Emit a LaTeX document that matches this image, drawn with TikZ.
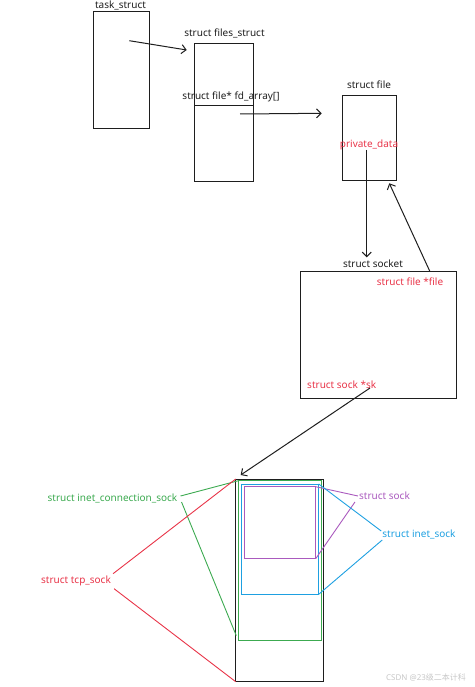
\documentclass[tikz,border=0pt]{standalone}
\usepackage{fontspec}
\setmainfont{Noto Sans}
\newfontfamily\cjkfont{Noto Sans CJK SC}
\usetikzlibrary{calc,arrows.meta}
\definecolor{cred}{RGB}{232,52,72}
\definecolor{cgreen}{RGB}{60,170,80}
\definecolor{cpurple}{RGB}{170,90,190}
\definecolor{cblue}{RGB}{30,160,225}
\definecolor{ctext}{RGB}{30,30,30}
\begin{document}
\begin{tikzpicture}[x=1pt,y=-1pt,
  box/.style={draw=ctext,line width=1pt,anchor=north west,inner sep=0pt,outer sep=0pt},
  cbox/.style={draw=#1,line width=0.9pt,anchor=north west,inner sep=0pt,outer sep=0pt},
  lbl/.style={font=\fontsize{10}{11}\selectfont,text=ctext,inner sep=0pt},
  rlbl/.style={lbl,text=cred},
  ptr/.style={draw=ctext,line width=1pt,-{Straight Barb[length=4.5pt,width=9pt,line width=1pt]}},
  lead/.style={draw=#1,line width=0.9pt}
]
\useasboundingbox (0,0) rectangle (474,687);
% boxes
\node[box,minimum width=56pt,minimum height=116.6pt] (task) at (93.3,11.7) {};
\node[box,minimum width=59.3pt,minimum height=137.7pt] (files) at (194,44) {};
\node[box,minimum width=54pt,minimum height=84.3pt] (file) at (342.7,95.7) {};
\node[box,minimum width=156pt,minimum height=126.7pt] (socket) at (300,271.7) {};
\node[box,minimum width=87.6pt,minimum height=202.7pt] (big) at (235.7,479) {};
\node[cbox=cgreen,minimum width=83.4pt,minimum height=160pt] (green) at (238.3,480.7) {};
\node[cbox=cblue,minimum width=77.4pt,minimum height=110.3pt] (blue) at (241.3,484) {};
\node[cbox=cpurple,minimum width=71.7pt,minimum height=72pt] (purple) at (244,486.7) {};
\coordinate (divl) at (194,105.7);
\coordinate (divr) at (253.3,105.7);
\draw[draw=ctext,line width=1pt] (divl) -- (divr);
% labels
\node[lbl] (ltask) at (120.5,5) {task\_struct};
\node[lbl] (lfiles) at (224.5,33) {struct files\_struct};
\node[lbl] (lfd) at (231,97) {struct file* fd\_array[]};
\node[lbl] (lfile) at (369,85) {struct file};
\node[rlbl] (lpriv) at (369,145) {private\_data};
\node[lbl] (lsocket) at (373,263.3) {struct socket};
\node[rlbl] (lsfile) at (410,281.7) {struct file *file};
\node[rlbl] (lsk) at (341.7,385) {struct sock *sk};
\node[lbl,text=cgreen] (licsk) at (112.5,498) {struct inet\_connection\_sock};
\node[lbl,text=cpurple] (lsock) at (384.5,496) {struct sock};
\node[lbl,text=cblue] (linet) at (419,534) {struct inet\_sock};
\node[lbl,text=cred] (ltcp) at (76,580.7) {struct tcp\_sock};
\node[lbl,text=black!22,font=\fontsize{8}{9}\selectfont] (wm) at (426,677) {CSDN @23{\cjkfont 级二本计科}};
% pointer arrows
\coordinate (p1) at (129.3,40.7);
\coordinate (q1) at (186.7,50);
\draw[ptr] (p1) -- (q1);
\coordinate (p2) at (240,114);
\coordinate (q2) at (321.7,113.3);
\draw[ptr] (p2) -- (q2);
\coordinate (p3) at (366.7,150);
\coordinate (q3) at (366.7,257.3);
\draw[ptr] (p3) -- (q3);
\coordinate (p4) at (430,271.7);
\coordinate (q4) at (389.3,183.3);
\draw[ptr] (p4) -- (q4);
\coordinate (p5) at (370,388);
\coordinate (q5) at (240.7,475);
\draw[ptr] (p5) -- (q5);
% leader lines
\draw[lead=cgreen] ([xshift=3pt,yshift=2pt]licsk.east) -- (green.north west);
\draw[lead=cgreen] ([xshift=4pt,yshift=-4pt]licsk.east) -- ([xshift=-2pt,yshift=5pt]green.south west);
\draw[lead=cred] ([xshift=2pt,yshift=7pt]ltcp.east) -- (big.north west);
\draw[lead=cred] ([xshift=3pt,yshift=-8pt]ltcp.east) -- (big.south west);
\draw[lead=cpurple] ([xshift=-1pt]lsock.west) -- (purple.north east);
\draw[lead=cpurple] ([xshift=-4pt,yshift=-6pt]lsock.west) -- (purple.south east);
\draw[lead=cblue] ([xshift=-1pt,yshift=3pt]linet.west) -- (blue.north east);
\draw[lead=cblue] ([yshift=-6pt]linet.west) -- (blue.south east);
\end{tikzpicture}
\end{document}
